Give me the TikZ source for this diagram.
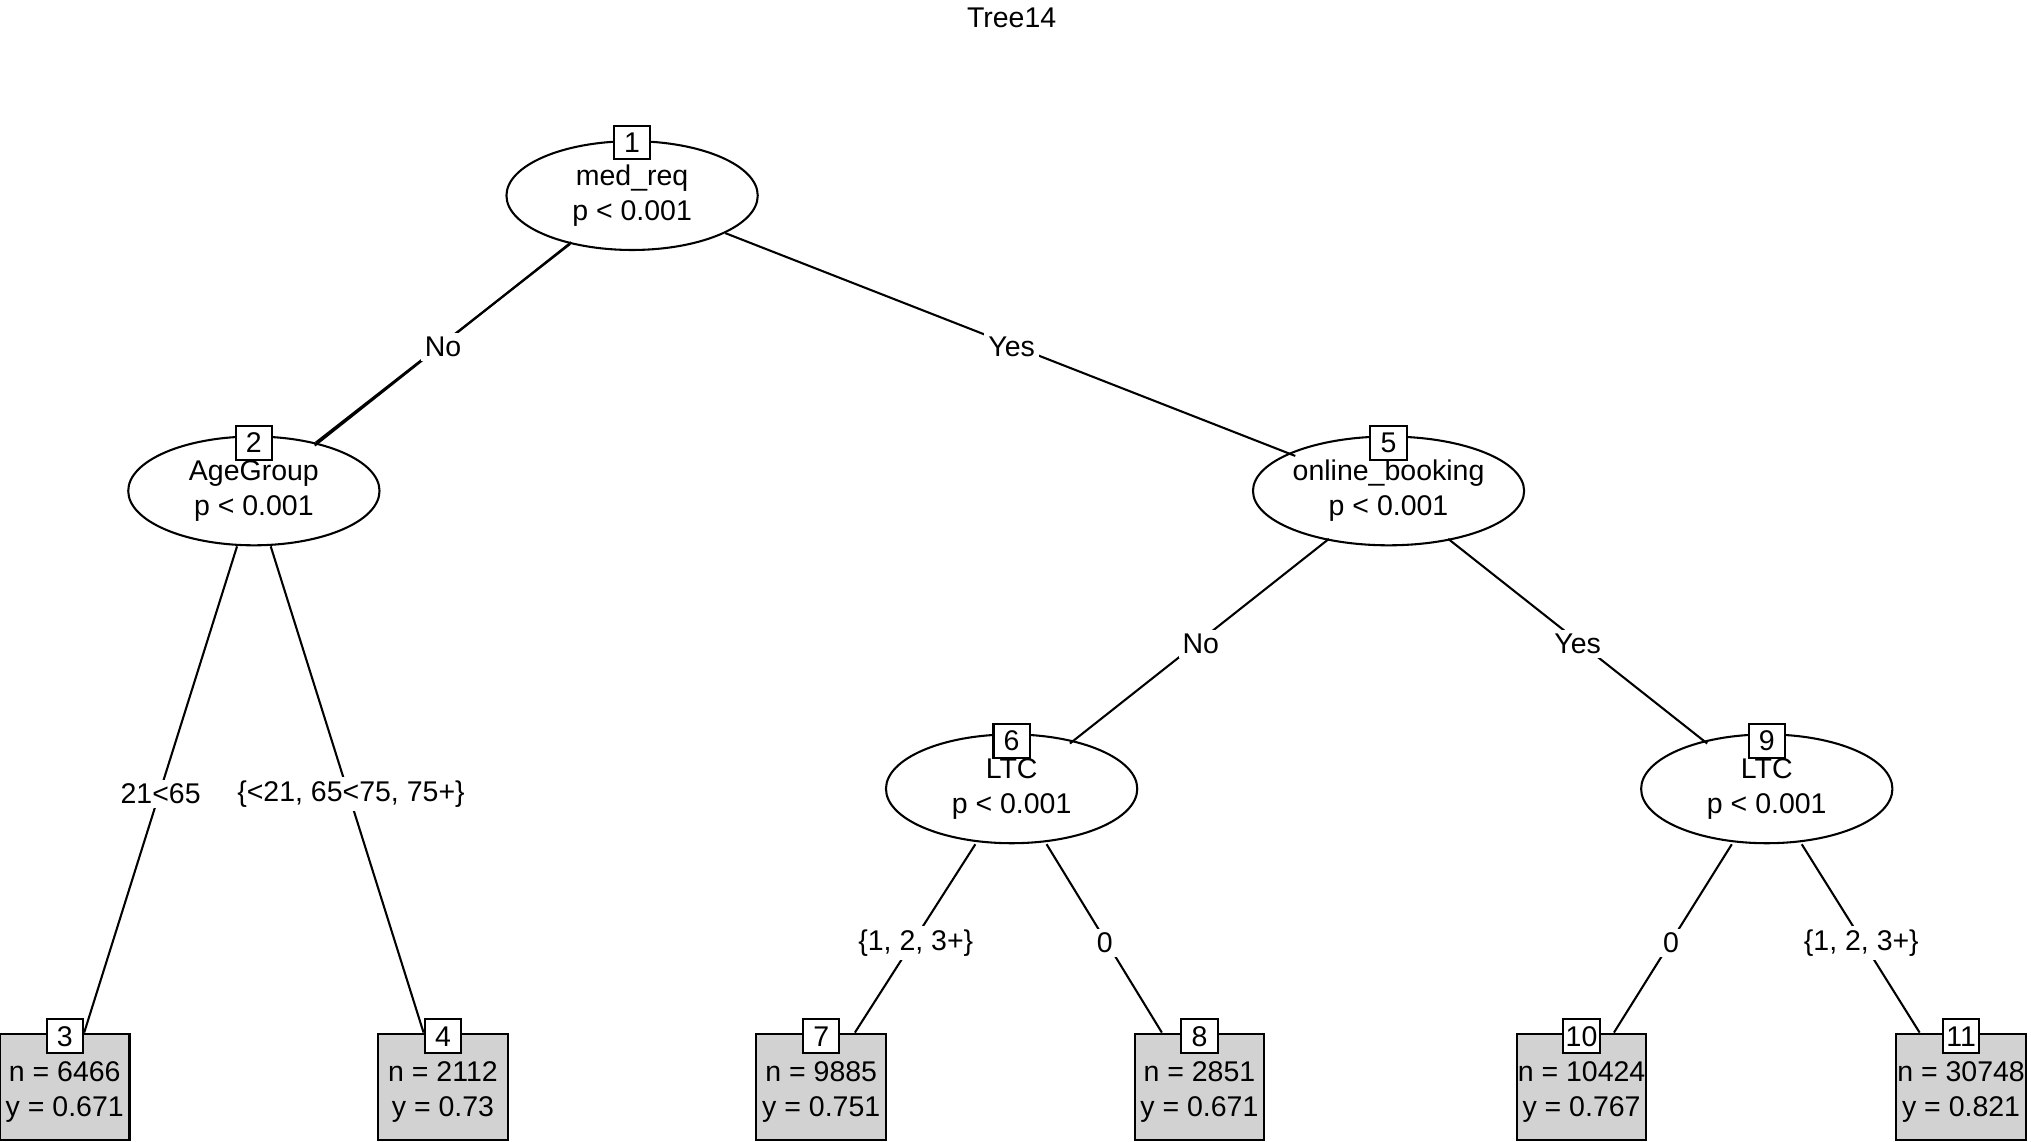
\documentclass[tikz,border=0pt]{standalone}
\usepackage{fontspec}
\setmainfont{Liberation Sans}
\usetikzlibrary{shapes.geometric,calc}
\begin{document}
\begin{tikzpicture}[x=0.5pt,y=-0.5pt,
  every node/.style={font=\fontsize{11}{13.5}\selectfont},
  inner/.style={ellipse,draw,thick,fill=white,minimum width=97pt,minimum height=42pt,inner sep=0pt,align=center},
  leaf/.style={rectangle,draw,thick,fill=gray!35,minimum width=50pt,minimum height=41pt,inner sep=0pt,align=center},
  num/.style={rectangle,draw,thick,fill=white,minimum width=14pt,minimum height=13pt,inner sep=1pt},
  lab/.style={fill=white,inner sep=1.5pt},
  edge/.style={thick}]
\useasboundingbox (0,0) rectangle (1568,881);
\node (title) at (781,14) {Tree14};
% edges first
\coordinate (a1) at (488,151);
\node[inner] (n1) at (488,151) {med\_req\\p < 0.001};
\node[inner] (n2) at (196,379) {AgeGroup\\p < 0.001};
\node[inner] (n5) at (1072,379) {online\_booking\\p < 0.001};
\node[inner] (n6) at (781,609) {LTC\\p < 0.001};
\node[inner] (n9) at (1364,609) {LTC\\p < 0.001};
\node[leaf] (l3) at (50,839) {\\[-2pt]n = 6466\\y = 0.671};
\node[leaf] (l4) at (342,839) {\\[-2pt]n = 2112\\y = 0.73};
\node[leaf] (l7) at (634,839) {\\[-2pt]n = 9885\\y = 0.751};
\node[leaf] (l8) at (926,839) {\\[-2pt]n = 2851\\y = 0.671};
\node[leaf] (l10) at (1221,839) {\\[-2pt]n = 10424\\y = 0.767};
\node[leaf] (l11) at (1514,839) {\\[-2pt]n = 30748\\y = 0.821};
\begin{scope}[on background layer/.style={}]
\draw[edge] (n1) -- (n2) node[lab,pos=0.5] at (342,268) {};
\end{scope}
\draw[edge] (441,187) -- (243,344);
\draw[edge] (560,180) -- (1000,352);
\draw[edge] ($(n2.south)+(-13,0)$) -- ($(l3.north)+(15,0)$);
\draw[edge] ($(n2.south)+(13,0)$) -- ($(l4.north)+(-15,0)$);
\draw[edge] (1026,416) -- (826,574);
\draw[edge] (1118,416) -- (1318,574);
\draw[edge] ($(n6.south)+(-28,0)$) -- ($(l7.north)+(26,0)$);
\draw[edge] ($(n6.south)+(27,0)$) -- ($(l8.north)+(-29,0)$);
\draw[edge] ($(n9.south)+(-27,0)$) -- ($(l10.north)+(25,0)$);
\draw[edge] ($(n9.south)+(27,0)$) -- ($(l11.north)+(-32,0)$);
\node[lab] (e12) at (342,268) {No};
\node[lab] (e15) at (781,268) {Yes};
\node[lab] (e56) at (927,497) {No};
\node[lab] (e59) at (1218,497) {Yes};
\node[lab] (e23) at (124,613) {21<65};
\node[lab] (e24) at (271,613) {\{<21, 65<75, 75+\}};
\node[lab] (e67) at (707,728) {\{1, 2, 3+\}};
\node[lab] (e68) at (853,728) {0};
\node[lab] (e910) at (1290,728) {0};
\node[lab] (e911) at (1437,728) {\{1, 2, 3+\}};
\node[num] (b1) at (488,110) {1};
\node[num] (b2) at (196,342) {2};
\node[num] (b5) at (1072,342) {5};
\node[num] (b6) at (781,572) {6};
\node[num] (b9) at (1364,572) {9};
\node[num] (b3) at (50,800) {3};
\node[num] (b4) at (342,800) {4};
\node[num] (b7) at (634,800) {7};
\node[num] (b8) at (926,800) {8};
\node[num] (b10) at (1221,800) {10};
\node[num] (b11) at (1514,800) {11};
\end{tikzpicture}
\end{document}
